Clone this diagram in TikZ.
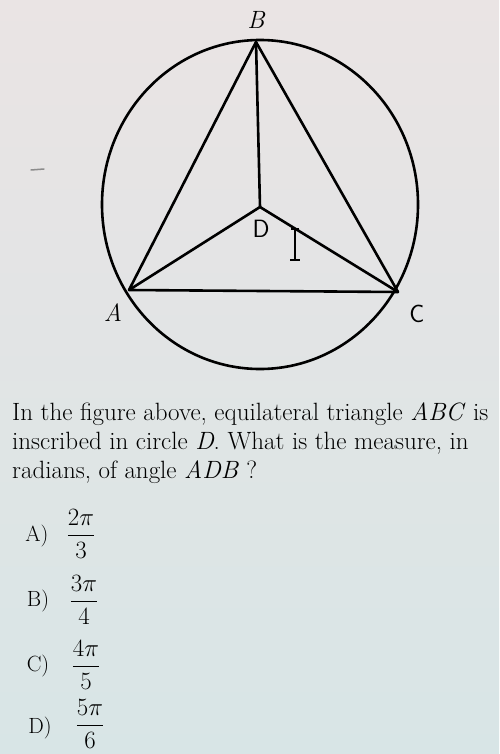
\documentclass[tikz,border=0pt]{standalone}
\usepackage{tikz}
\usetikzlibrary{positioning}
\definecolor{paper}{RGB}{234,228,228}
\definecolor{paperlow}{RGB}{216,229,230}
\tikzset{figline/.style={black, line width=2.6pt, line join=round},
  ptlabel/.style={font=\fontsize{25}{28}\selectfont, text=black, inner sep=0pt},
  qline/.style={font=\fontsize{25}{30}\selectfont, text=black, anchor=base west, inner sep=0pt},
  choice/.style={font=\fontsize{22}{26}\selectfont, text=black, inner sep=0pt},
  frac/.style={font=\fontsize{23}{26}\selectfont, text=black, inner sep=0pt}}
\begin{document}
\begin{tikzpicture}[x=1pt,y=-1pt]
\useasboundingbox (0,0) rectangle (499,754);
\shade[top color=paper, bottom color=paperlow] (0,0) rectangle (499,754);

% circle and triangle
\coordinate (D) at (260,207);
\coordinate (B) at (256,42);
\coordinate (A) at (129,290);
\coordinate (C) at (398,292);
\draw[figline] (260,204.5) ellipse [x radius=158pt, y radius=164.5pt];
\draw[figline] (A) -- (B) -- (C) -- cycle;
\draw[figline] (D) -- (B);
\draw[figline] (D) -- (A);
\draw[figline] (D) -- (C);

\node[ptlabel] (labB) at (256,20) {\itshape B};
\node[ptlabel] (labA) at (113,313) {\itshape A};
\node[ptlabel] (labC) at (417,314) {\sffamily C};
\node[ptlabel] (labD) at (261,229) {\sffamily D};

% cursor and smudge
\draw[black, line width=1.2pt] (291,229) -- (299,229) (295,229) -- (295,259) (290,260) -- (300,260);
\draw[black!45, line width=1.5pt, line cap=round] (31,170) -- (44,169);

% question
\node[qline] (q1) at (12,420) {In the figure above, equilateral triangle \textit{ABC} is};
\node[qline] (q2) at (12,449) {inscribed in circle \textit{D}. What is the measure, in};
\node[qline] (q3) at (12,478) {radians, of angle \textit{ADB} ?};

% answer choices
\node[choice] (chA) at (37,536) {A)};
\node[frac] (frA) at (81,534) {$\displaystyle\frac{2\pi}{3}$};
\node[choice] (chB) at (38,601) {B)};
\node[frac] (frB) at (84,600) {$\displaystyle\frac{3\pi}{4}$};
\node[choice] (chC) at (38,666) {C)};
\node[frac] (frC) at (86,665) {$\displaystyle\frac{4\pi}{5}$};
\node[choice] (chD) at (40,728) {D)};
\node[frac] (frD) at (90,724) {$\displaystyle\frac{5\pi}{6}$};
\end{tikzpicture}
\end{document}
